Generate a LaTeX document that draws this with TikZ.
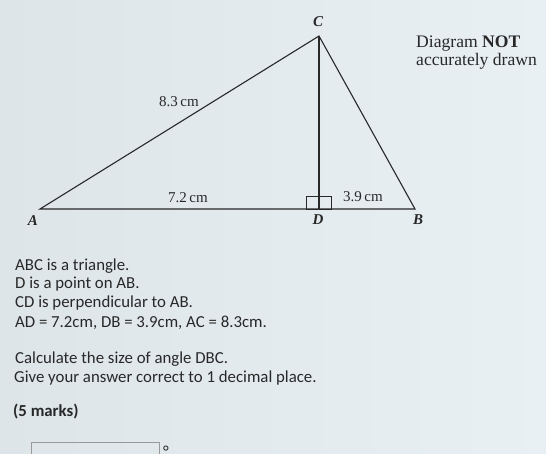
\documentclass[tikz,border=0pt]{standalone}
\usepackage{fontspec}
\setmainfont{Liberation Serif}
\newfontfamily\calfont{Carlito}
\usetikzlibrary{positioning}
\definecolor{paperL}{RGB}{221,229,233}
\definecolor{paperR}{RGB}{232,240,244}
\definecolor{ink}{RGB}{40,40,40}
\tikzstyle{every node}=[anchor=base west,inner sep=0pt,text=ink]
\tikzstyle{side}=[draw=ink,line width=1.1pt]
\tikzstyle{vertex}=[anchor=base,font=\fontsize{15}{17}\selectfont\bfseries\itshape]
\tikzstyle{length}=[font=\fontsize{15}{17}\selectfont]
\tikzstyle{note}=[font=\fontsize{17.6}{20}\selectfont]
\tikzstyle{prose}=[font=\calfont\fontsize{16.8}{19}\selectfont]
\tikzstyle{answerbox}=[draw=gray!80,line width=0.8pt]

\begin{document}
\begin{tikzpicture}[x=1pt,y=-1pt]
  \shade[left color=paperL,right color=paperR] (0,0) rectangle (546,454);
  \useasboundingbox (0,0) rectangle (546,454);
  % triangle
  \coordinate (A) at (40,209);
  \coordinate (B) at (415,209);
  \coordinate (C) at (319,36);
  \coordinate (D) at (319,209);
  \draw[side] (A) -- (B) -- (C) -- cycle;
  \draw[side] (C) -- (D);
  \draw[side,line width=0.9pt] (D) ++(-13,0) rectangle ++(25,-13);
  \node[vertex] (labA) at (33,226) {A};
  \node[vertex] (labB) at (418,225) {B};
  \node[vertex] (labC) at (318,27) {C};
  \node[vertex] (labD) at (318,225) {D};
  \node[length] (ac) at (159,107) {8.3\,cm};
  \node[length] (ad) at (168,203) {7.2\,cm};
  \node[length] (db) at (343,202) {3.9\,cm};
  \node[note] (warn1) at (416,48) {Diagram \textbf{NOT}};
  \node[note] (warn2) at (416,66) {accurately drawn};
  % question text
  \node[prose] (q1) at (15,271) {ABC is a triangle.};
  \node[prose] (q2) at (15,289) {D is a point on AB.};
  \node[prose] (q3) at (15,307) {CD is perpendicular to AB.};
  \node[prose] (q4) at (15,327) {AD = 7.2cm, DB = 3.9cm, AC = 8.3cm.};
  \node[prose] (q5) at (15,363) {Calculate the size of angle DBC.};
  \node[prose] (q6) at (14,382) {Give your answer correct to 1 decimal place.};
  \node[prose,font=\calfont\bfseries\fontsize{16.8}{19}\selectfont] (marks) at (13,416) {(5 marks)};
  \draw[answerbox] (31,442) rectangle (159,470);
  \node[prose] (deg) at (163,457) {°};
\end{tikzpicture}
\end{document}
